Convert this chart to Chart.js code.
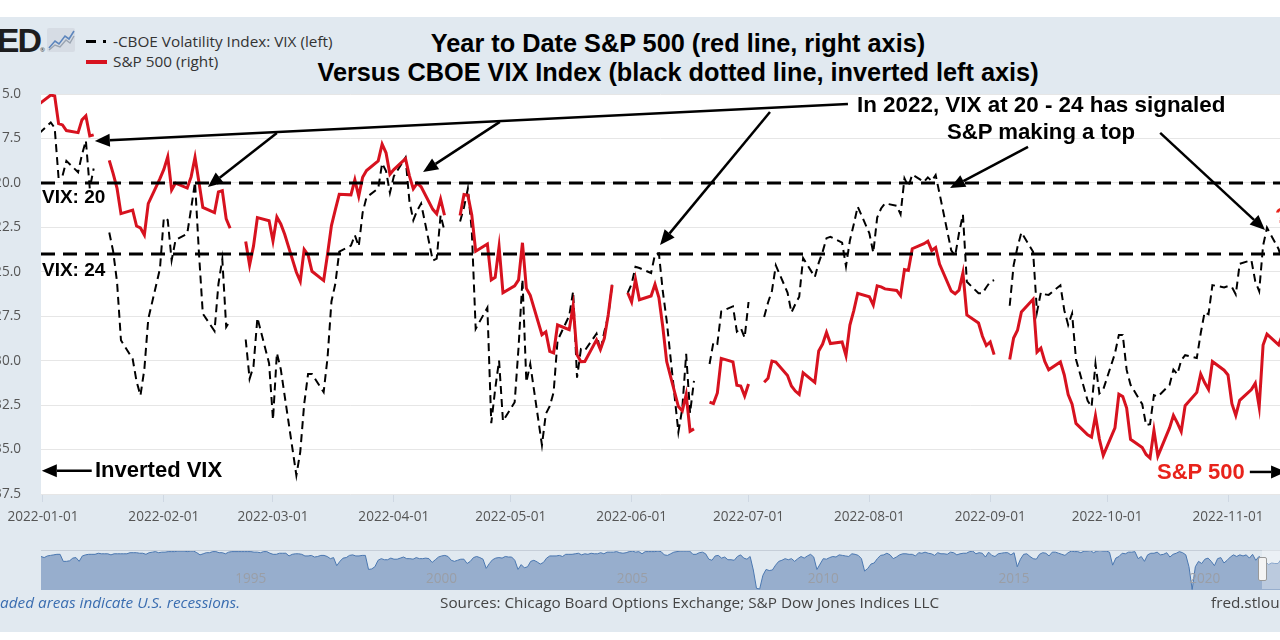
<!DOCTYPE html>
<html>
<head>
<meta charset="utf-8">
<script src="https://cdn.jsdelivr.net/npm/chart.js@4.4.1/dist/chart.umd.min.js"></script>
<style>
  html, body { margin: 0; padding: 0; background: #fff; }
  #page { position: relative; width: 1280px; height: 640px; overflow: hidden; font-family: "Open Sans", sans-serif; }
  #band { position: absolute; left: 0; top: 17px; width: 1280px; height: 615px; background: #e1e9f0; }
  canvas { position: absolute; left: 0; }
  .note { position: absolute; font-family: "Liberation Sans", Arial, sans-serif; font-weight: bold; white-space: nowrap; color: #000; }
  .title { position: absolute; left: 178px; width: 1000px; text-align: center; font-family: "Liberation Sans", Arial, sans-serif; font-weight: bold; font-size: 25.3px; line-height: 25px; color: #000; white-space: nowrap; }
  .legend { position: absolute; left: 113px; font-size: 15.3px; line-height: 20px; color: #333; white-space: nowrap; }
  .foot { position: absolute; top: 592px; font-size: 15.3px; line-height: 20px; color: #444; white-space: nowrap; }
</style>
</head>
<body>
<div id="page">
  <div id="band"></div>

  <!-- FRED logo + legend -->
  <div style="position:absolute; right:1240px; top:23px; font-family:'Liberation Sans',Arial,sans-serif; font-weight:bold; font-size:34px; line-height:34px; letter-spacing:-2px; color:#1d1d1f;">FRED</div>
  <div style="position:absolute; left:40px; top:46px; font-size:6px; color:#333;">&reg;</div>
  <svg style="position:absolute; left:47px; top:28px;" width="28" height="24">
    <rect x="0" y="0" width="28" height="24" rx="2" fill="#d6dce4"/>
    <polyline points="2,20 8,13 12,16 18,8 22,11 27,3" fill="none" stroke="#5d86bd" stroke-width="1.6"/>
    <polyline points="2,22 8,17 13,19 19,12 23,15 27,8" fill="none" stroke="#9aa4b1" stroke-width="1.4"/>
  </svg>
  <div style="position:absolute; left:86px; top:40px; width:10px; height:3px; background:#000;"></div>
  <div style="position:absolute; left:103px; top:40px; width:3px; height:3px; background:#000;"></div>
  <div class="legend" style="top:31px;">-CBOE Volatility Index: VIX (left)</div>
  <div style="position:absolute; left:86px; top:60px; width:21px; height:4px; background:#d7121f;"></div>
  <div class="legend" style="top:51px;">S&amp;P 500 (right)</div>

  <div class="title" style="top:31px;">Year to Date S&amp;P 500 (red line, right axis)</div>
  <div class="title" style="top:60px;">Versus CBOE VIX Index (black dotted line, inverted left axis)</div>

  <canvas id="main" width="1280" height="640" style="top:0;"></canvas>
  <canvas id="nav" width="1280" height="40" style="top:550px;"></canvas>
  <div style="position:absolute; left:41px; top:550px; width:1239px; height:1px; background:#c6ced8;"></div>
  <div style="position:absolute; left:1262px; top:550px; width:18px; height:39px; background:rgba(255,255,255,0.35);"></div>
  <div style="position:absolute; left:1258px; top:557px; width:7px; height:22px; background:#f4f4f4; border:1px solid #999; border-radius:2px;"></div>

  <!-- annotations -->
  <div class="note" style="left:857px; top:94px; font-size:22.4px; line-height:22px;">In 2022, VIX at 20 - 24 has signaled</div>
  <div class="note" style="left:857px; width:368px; text-align:center; top:121px; font-size:22.2px; line-height:22px;">S&amp;P making a top</div>
  <div class="note" style="left:42px; top:187px; font-size:19px; line-height:19px;">VIX: 20</div>
  <div class="note" style="left:42px; top:260px; font-size:19px; line-height:19px;">VIX: 24</div>
  <div class="note" style="left:95px; top:459px; font-size:22px; line-height:22px;">Inverted VIX</div>
  <div class="note" style="left:1157px; top:461px; font-size:22px; line-height:22px; color:#e8231b;">S&amp;P 500</div>
  <div class="note" style="left:1275px; top:205px; font-size:22px; line-height:22px; color:#e8231b;">?</div>

  <div class="foot" style="right:1040px; color:#3a6db0; font-style:italic;">Shaded areas indicate U.S. recessions.</div>
  <div class="foot" style="left:440px;">Sources: Chicago Board Options Exchange; S&amp;P Dow Jones Indices LLC</div>
  <div class="foot" style="left:1211px;">fred.stlouisfed.org</div>
</div>

<script>
// first observation 2021-12-31, then every weekday (holidays are null, as FRED lists them)
const firstDay = -1; // days from 2022-01-01

// S&P 500 daily close (right axis)
const spx = [
  4766.18,
  4796.56, 4793.54, 4700.58, 4696.05, 4677.03, 4670.29, 4713.07, 4726.35, 4659.03, 4662.85, null, 4577.11, 4532.76, 4482.73, 4397.94, 4410.13, 4356.45, 4349.93, 4326.51, 4431.85, 4515.55,
  4546.54, 4589.38, 4477.44, 4500.53, 4483.87, 4521.54, 4587.18, 4504.08, 4418.64, 4401.67, 4471.07, 4475.01, 4380.26, 4348.87, null, 4304.76, 4225.50, 4288.70, 4384.65, 4373.94,
  4306.26, 4386.54, 4363.49, 4328.87, 4201.09, 4170.70, 4277.88, 4259.52, 4204.31, 4173.11, 4262.45, 4357.86, 4411.67, 4463.12, 4461.18, 4511.61, 4456.24, 4520.16, 4543.06, 4575.52, 4631.60, 4602.45, 4530.41,
  4545.86, 4582.64, 4525.12, 4481.15, 4500.21, 4488.28, 4412.53, 4397.45, 4446.59, 4392.59, null, 4391.69, 4462.21, 4459.45, 4393.66, 4271.78, 4296.12, 4175.20, 4183.96, 4287.50, 4131.93,
  4155.38, 4175.48, 4300.17, 4146.87, 4123.34, 3991.24, 4001.05, 3935.18, 3930.08, 4023.89, 4008.01, 4088.85, 3923.68, 3900.79, 3901.36, 3973.75, 3941.48, 3978.73, 4057.84, 4158.24, null, 4132.15,
  4101.23, 4176.82, 4108.54, 4121.43, 4160.68, 4115.77, 4017.82, 3900.86, 3749.63, 3735.48, 3789.99, 3666.77, 3674.84, null, 3764.79, 3759.89, 3795.73, 3911.74, 3900.11, 3821.55, 3818.83, 3785.38,
  3825.33, null, 3831.39, 3845.08, 3902.62, 3899.38, 3854.43, 3818.80, 3801.78, 3790.38, 3863.16, 3830.85, 3936.69, 3959.90, 3998.95, 3961.63, 3966.84, 3921.05, 4023.61, 4072.43, 4130.29,
  4118.63, 4091.19, 4155.17, 4151.94, 4145.19, 4140.06, 4122.47, 4210.24, 4207.27, 4280.15, 4297.14, 4305.20, 4274.04, 4283.74, 4228.48, 4137.99, 4128.73, 4140.77, 4199.12, 4057.66, 4030.61, 3986.16, 3955.00,
  3966.85, 3924.26, null, 3908.19, 3979.87, 4006.18, 4067.36, 4110.41, 3932.69, 3946.01, 3901.35, 3873.33, 3899.89, 3855.93, 3789.93, 3757.99, 3693.23, 3655.04, 3647.29, 3719.04, 3640.47, 3585.62,
  3678.43, 3790.93, 3783.28, 3744.52, 3639.66, 3612.39, 3588.84, 3577.03, 3669.91, 3583.07, 3677.95, 3719.98, 3695.16, 3665.78, 3752.75, 3797.34, 3859.11, 3830.60, 3807.30, 3901.06, 3871.98,
  3856.10, 3759.69, 3719.89, 3770.55, 3806.80, 3828.11, 3748.57, 3956.37, 3992.93, 3957.25, 3991.73
];

// CBOE VIX daily close (left axis, inverted)
const vix = [
  17.22,
  16.60, 16.91, 19.73, 19.61, 18.76, 19.40, 18.41, 17.62, 20.31, 19.19, null, 22.79, 23.85, 25.59, 28.85, 29.90, 31.16, 31.96, 30.49, 27.66, 24.83,
  21.96, 22.09, 24.35, 23.22, 22.86, 21.44, 19.96, 23.91, 27.36, 28.33, 25.70, 24.29, 28.11, 27.75, null, 28.81, 31.02, 30.32, 27.59, 30.15,
  33.32, 29.57, 30.48, 31.98, 36.45, 35.13, 32.45, 30.75, 30.75, 31.77, 29.83, 26.67, 25.67, 23.87, 23.53, 22.94, 23.57, 21.67, 20.81, 20.31, 18.90, 19.33, 20.56,
  19.63, 18.57, 21.03, 22.10, 21.55, 21.16, 24.37, 24.26, 21.82, 22.70, null, 22.17, 21.37, 20.32, 22.68, 28.21, 27.02, 33.52, 31.60, 29.99, 33.40,
  32.34, 29.25, 25.42, 31.20, 30.19, 34.75, 32.99, 32.56, 31.77, 28.87, 27.47, 26.10, 30.96, 29.35, 29.43, 28.48, 29.45, 28.37, 27.50, 25.72, null, 26.19,
  25.69, 24.72, 24.79, 25.07, 24.02, 23.96, 26.09, 27.75, 34.02, 32.69, 29.62, 32.95, 31.13, null, 30.19, 28.95, 29.05, 27.23, 26.95, 28.36, 28.16, 28.71,
  26.70, null, 27.54, 26.73, 26.08, 24.64, 26.17, 27.29, 26.82, 26.40, 24.23, 25.30, 24.50, 23.88, 23.11, 23.03, 23.36, 24.69, 23.24, 22.33, 21.33,
  22.84, 23.93, 21.95, 21.44, 21.15, 21.29, 21.77, 19.74, 20.20, 19.53, 19.95, 19.69, 19.90, 19.56, 20.60, 23.80, 24.11, 22.82, 21.78, 25.56, 26.21, 26.21, 25.87,
  25.56, 25.47, null, 26.91, 24.64, 23.61, 22.79, 23.87, 27.27, 26.16, 26.27, 26.30, 25.76, 27.16, 27.99, 27.35, 29.92, 32.26, 32.60, 30.18, 31.84, 31.62,
  29.59, 28.55, 28.55, 30.52, 31.36, 32.45, 33.63, 33.57, 31.94, 32.02, 31.37, 30.50, 30.76, 29.98, 29.69, 29.85, 28.46, 27.28, 27.39, 25.75, 25.88,
  25.81, 25.86, 26.28, 24.55, 24.35, 25.54, 26.09, 23.53, 22.52, 23.73, 24.54
];

// x axis ticks (days from 2022-01-01)
const tickDays = [0, 31, 59, 90, 120, 151, 181, 212, 243, 273, 304];
const tickLabels = ['2022-01-01', '2022-02-01', '2022-03-01', '2022-04-01', '2022-05-01', '2022-06-01',
  '2022-07-01', '2022-08-01', '2022-09-01', '2022-10-01', '2022-11-01'];
const vixLevels = [20, 24];

// navigator: VIX, monthly, 1990 onwards
const navStartYear = 1990;
const navVix = [
  21,23,20,19,18,17,17,30,30,29,24,23,
  30,20,18,17,17,17,15,16,16,16,18,16,
  16,16,16,16,14,14,14,15,15,17,14,13,
  12,14,13,13,12,12,12,11,11,11,12,11,
  11,14,18,16,14,14,12,12,14,14,16,13,
  12,12,12,12,12,12,12,13,13,14,12,12,
  15,17,17,15,15,15,20,17,16,16,17,20,
  20,19,22,21,19,19,21,25,23,38,30,24,
  23,19,18,20,20,19,19,45,44,40,28,25,
  27,27,24,26,26,24,22,25,25,26,23,25,
  25,24,25,32,27,22,20,19,21,28,30,28,
  26,26,34,30,23,21,23,26,43,34,27,24,
  23,24,21,22,22,28,45,36,42,40,30,28,
  31,35,32,24,20,20,20,19,21,17,17,17,
  16,15,18,16,17,15,16,16,14,16,13,13,
  13,12,14,15,14,12,11,13,12,16,12,12,
  12,12,11,12,18,19,16,13,12,11,11,11,
  11,17,17,14,13,16,26,28,20,19,24,22,
  27,27,28,21,18,24,26,21,46,80,81,56,
  45,47,46,37,30,28,25,27,25,30,25,21,
  24,20,17,22,45,35,25,26,23,21,22,18,
  19,20,21,16,17,19,25,48,43,35,33,25,
  19,18,15,18,25,22,18,16,16,17,17,20,
  14,15,13,15,16,19,14,16,16,17,13,14,
  18,16,15,15,12,11,16,14,15,22,13,19,
  21,16,15,14,14,18,14,40,26,17,16,21,
  25,26,17,14,15,20,13,13,15,17,19,14,
  11,12,12,14,11,11,10,14,11,10,11,11,
  13,37,24,21,15,16,13,13,12,25,21,30,
  18,15,15,13,18,17,14,22,17,15,12,14,
  18,40,82,40,30,34,26,24,30,38,25,23,
  33,28,22,18,21,18,20,18,24,17,28,21,
  25,30,36,33,34,34,26,25,32,33,26
];
const navYearTicks = [1995, 2000, 2005, 2010, 2015, 2020];

// annotation arrows: [fromDay, fromVix, toDay, toVix]
const arrows = [
  [206.5, 15.56, 13.3, 17.64],
  [60.0, 17.19, 42.3, 20.23],
  [117.2, 16.57, 97.5, 19.39],
  [186.5, 16.01, 158.3, 23.49],
  [252.7, 17.98, 232.7, 20.29],
  [286.6, 17.19, 313.5, 22.65],
  [12.5, 36.19, -0.3, 36.19],
  [309.6, 36.26, 318.9, 36.26]
];

// weekday offsets matching the series
const days = [];
for (let d = firstDay; days.length < spx.length; d++) {
  const wd = new Date(Date.UTC(2022, 0, 1) + d * 864e5).getUTCDay();
  if (wd !== 0 && wd !== 6) days.push(d);
}
const xMin = -0.513, xMax = 317.34;

Chart.defaults.font.family = '"Open Sans", sans-serif';

const plotBg = {
  id: 'plotBg',
  beforeDraw(chart) {
    const { ctx, chartArea: a } = chart;
    ctx.save();
    ctx.fillStyle = '#fff';
    ctx.fillRect(a.left, a.top, a.right - a.left, a.bottom - a.top + 1);
    ctx.restore();
  }
};

const arrowPlugin = {
  id: 'arrows',
  afterDatasetsDraw(chart) {
    const { ctx, scales: { x, y } } = chart;
    ctx.save();
    ctx.strokeStyle = '#000';
    ctx.fillStyle = '#000';
    ctx.lineWidth = 2.5;
    arrows.forEach(([d0, v0, d1, v1]) => {
      const x0 = x.getPixelForValue(d0), y0 = y.getPixelForValue(v0);
      const x1 = x.getPixelForValue(d1), y1 = y.getPixelForValue(v1);
      const a = Math.atan2(y1 - y0, x1 - x0);
      const hl = 15, hw = 6.5;
      const bx = x1 - hl * Math.cos(a), by = y1 - hl * Math.sin(a);
      ctx.beginPath();
      ctx.moveTo(x0, y0);
      ctx.lineTo(bx, by);
      ctx.stroke();
      ctx.beginPath();
      ctx.moveTo(x1, y1);
      ctx.lineTo(bx + hw * Math.sin(a), by - hw * Math.cos(a));
      ctx.lineTo(bx - hw * Math.sin(a), by + hw * Math.cos(a));
      ctx.closePath();
      ctx.fill();
    });
    ctx.restore();
  }
};

const levelSets = vixLevels.map(v => ({
  data: [{ x: xMin, y: v }, { x: xMax, y: v }],
  yAxisID: 'y',
  borderColor: '#000',
  borderWidth: 3,
  borderDash: [14, 8],
  pointRadius: 0,
  clip: { left: 4, top: 0, right: 0, bottom: 0 }
}));

new Chart(document.getElementById('main'), {
  type: 'line',
  data: {
    datasets: [
      ...levelSets,
      {
        label: 'S&P 500 (right)',
        data: days.map((d, i) => ({ x: d, y: spx[i] })),
        yAxisID: 'y2',
        borderColor: '#d7121f',
        borderWidth: 3,
        pointRadius: 0,
        tension: 0
      },
      {
        label: '-CBOE Volatility Index: VIX (left)',
        data: days.map((d, i) => ({ x: d, y: vix[i] })),
        yAxisID: 'y',
        borderColor: '#000',
        borderWidth: 2,
        borderDash: [8, 5],
        pointRadius: 0,
        tension: 0
      }
    ]
  },
  options: {
    responsive: false,
    animation: false,
    events: [],
    layout: { padding: { top: 94, left: 0, right: 0, bottom: 0 } },
    plugins: { legend: { display: false }, tooltip: { enabled: false } },
    scales: {
      x: {
        type: 'linear',
        min: xMin,
        max: xMax,
        afterBuildTicks: s => { s.ticks = tickDays.map(v => ({ value: v })); },
        afterFit: s => { s.height = 146; },
        grid: { drawOnChartArea: false, drawTicks: true, tickLength: 8, color: '#cfd8e3' },
        border: { display: false },
        ticks: {
          autoSkip: false, maxRotation: 0, padding: 7,
          color: '#555', font: { size: 13.6 },
          callback: v => tickLabels[tickDays.indexOf(v)]
        }
      },
      y: {
        position: 'left',
        reverse: true,
        min: 15,
        max: 37.5,
        afterFit: s => { s.width = 41; },
        grid: { color: '#e6e6e6', drawTicks: false },
        border: { display: false },
        ticks: { stepSize: 2.5, padding: 20, color: '#555', font: { size: 13.6 }, callback: v => v.toFixed(1) }
      },
      y2: { position: 'right', display: false, min: 3456, max: 4800 }
    }
  },
  plugins: [plotBg, arrowPlugin]
});

// navigator: year labels sit inside the strip, so move the x axis box up over the area
const navAxisInside = {
  id: 'navAxisInside',
  afterLayout(chart) {
    const s = chart.scales.x;
    s.top = 13;
    s.bottom = 40;
    s.height = 27;
  }
};

new Chart(document.getElementById('nav'), {
  type: 'line',
  data: {
    datasets: [{
      data: navVix.map((v, i) => ({ x: navStartYear + i / 12, y: v })),
      borderColor: '#4a77b0',
      borderWidth: 1,
      backgroundColor: '#97aecd',
      fill: 'start',
      pointRadius: 0,
      tension: 0
    }]
  },
  options: {
    responsive: false,
    animation: false,
    events: [],
    layout: { padding: { left: 41, right: 0, top: 0, bottom: 0 } },
    plugins: { legend: { display: false }, tooltip: { enabled: false } },
    scales: {
      x: {
        type: 'linear',
        min: 1990,
        max: 1990 + (1280 - 41) / 38.16,
        afterBuildTicks: s => { s.ticks = navYearTicks.map(v => ({ value: v })); },
        afterFit: s => { s.height = 0; },
        grid: { display: false },
        border: { display: false },
        ticks: { z: 1, autoSkip: false, maxRotation: 0, padding: 0, labelOffset: 19, color: '#9a9ea6', font: { size: 13.6 }, callback: v => String(v) }
      },
      y: { display: false, reverse: true, min: 9, max: 83 }
    }
  },
  plugins: [navAxisInside]
});
</script>
</body>
</html>
